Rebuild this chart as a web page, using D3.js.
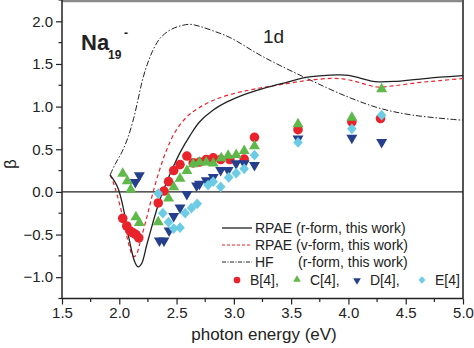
<!DOCTYPE html>
<html>
<head>
<meta charset="utf-8">
<script src="https://cdn.jsdelivr.net/npm/d3@7"></script>
<style>
  html, body { margin: 0; padding: 0; background: #fff; }
  svg { display: block; font-family: "Liberation Sans", Arial, sans-serif; }
</style>
</head>
<body>
<svg width="474" height="348"></svg>
<script>
// theory curves: [photon energy (eV), beta]
const rpaeR = [
    [1.92, 0.2], [1.96, 0.12], [1.99, 0.04], [2.02, -0.1], [2.05, -0.29], [2.09, -0.58],
    [2.135, -0.82], [2.165, -0.88], [2.195, -0.84], [2.24, -0.62], [2.3, -0.33], [2.34, -0.15],
    [2.38, 0.0], [2.43, 0.17], [2.47, 0.29], [2.53, 0.46], [2.617, 0.66], [2.7, 0.82],
    [2.82, 0.96], [2.94, 1.055], [3.05, 1.12], [3.14, 1.165], [3.26, 1.215], [3.46, 1.285],
    [3.64, 1.345], [3.84, 1.37], [3.93, 1.372], [4.0, 1.365], [4.1, 1.335], [4.2, 1.3],
    [4.26, 1.29], [4.4, 1.295], [4.6, 1.32], [4.8, 1.345], [5.0, 1.364]
];
const rpaeV = [
    [1.92, 0.2], [1.95, 0.1], [1.98, -0.03], [2.035, -0.32], [2.08, -0.6], [2.11, -0.73],
    [2.13, -0.76], [2.155, -0.72], [2.18, -0.6], [2.24, -0.3], [2.29, -0.03], [2.35, 0.25],
    [2.41, 0.48], [2.486, 0.7], [2.59, 0.88], [2.7, 0.99], [2.85, 1.09], [3.02, 1.16],
    [3.14, 1.195], [3.26, 1.225], [3.46, 1.27], [3.66, 1.31], [3.84, 1.33], [3.95, 1.325],
    [4.05, 1.3], [4.15, 1.26], [4.25, 1.23], [4.4, 1.245], [4.6, 1.28], [4.8, 1.305], [5.0, 1.33]
];
const hf = [
    [1.92, 0.2], [1.962, 0.32], [2.024, 0.47], [2.076, 0.64], [2.125, 0.86], [2.165, 1.09],
    [2.2, 1.3], [2.243, 1.49], [2.29, 1.65], [2.355, 1.8], [2.442, 1.897], [2.53, 1.945],
    [2.617, 1.965], [2.704, 1.94], [2.815, 1.89], [2.966, 1.81], [3.254, 1.585], [3.638, 1.33],
    [3.987, 1.118], [4.275, 0.98], [4.563, 0.9], [5.0, 0.84]
];

// measured points from ref. [4]
const dataB = [
    [2.03, -0.31], [2.065, -0.4], [2.095, -0.46], [2.12, -0.48], [2.145, -0.5], [2.17, -0.54],
    [2.34, -0.13], [2.39, 0.01], [2.43, 0.12], [2.475, 0.25], [2.53, 0.32], [2.59, 0.42],
    [2.645, 0.34], [2.7, 0.35], [2.76, 0.38], [2.82, 0.4], [2.885, 0.38], [2.965, 0.38],
    [3.09, 0.385], [3.18, 0.64], [3.56, 0.73], [4.03, 0.82], [4.28, 0.86]
];
const dataC = [
    [2.03, 0.21], [2.07, 0.12], [2.1, 0.02], [2.145, -0.3], [2.175, -0.37], [2.34, -0.36],
    [2.43, -0.08], [2.475, 0.05], [2.53, 0.15], [2.59, 0.24], [2.645, 0.32], [2.7, 0.34],
    [2.76, 0.34], [2.82, 0.33], [2.89, 0.39], [2.95, 0.42], [3.02, 0.43], [3.09, 0.475],
    [3.18, 0.53], [3.56, 0.79], [4.03, 0.865], [4.29, 1.2]
];
const dataD = [
    [2.14, 0.12], [2.175, 0.2], [2.35, -0.565], [2.39, -0.565], [2.435, -0.45], [2.475, -0.28],
    [2.53, -0.18], [2.59, -0.02], [2.675, 0.08], [2.7, 0.1], [2.76, 0.14], [2.82, 0.18],
    [2.885, 0.26], [2.95, 0.26], [3.02, 0.34], [3.09, 0.34], [3.18, 0.32], [3.56, 0.63],
    [4.03, 0.64], [4.29, 0.59]
];
const dataE = [
    [2.34, -0.02], [2.38, -0.25], [2.43, -0.355], [2.475, -0.43], [2.53, -0.42], [2.575, -0.25],
    [2.63, -0.19], [2.68, -0.14], [2.775, 0.08], [2.82, 0.12], [2.885, 0.06], [2.955, 0.17],
    [3.02, 0.22], [3.09, 0.27], [3.18, 0.43], [3.56, 0.58], [4.03, 0.74], [4.29, 0.9]
];

const xTicks = [1.5, 2.0, 2.5, 3.0, 3.5, 4.0, 4.5, 5.0];
const yTicks = [-1.0, -0.5, 0.0, 0.5, 1.0, 1.5, 2.0];

const RED = "#e8232b", GREEN = "#5fb84a", BLUE = "#263f8c", CYAN = "#6ccce6";

const svg = d3.select("svg");
const plotL = 62, plotR = 463, plotT = 0, plotB = 298.5;

const x = d3.scaleLinear().domain([1.5, 5.0]).range([plotL, plotR]);
const y = d3.scaleLinear().domain([-1.25, 2.25]).range([plotB, plotT]);

// frame
svg.append("line").attr("x1", plotL).attr("x2", plotR).attr("y1", 1).attr("y2", 1)
    .attr("stroke", "#8a8a8a").attr("stroke-width", 2.5);
svg.append("line").attr("x1", plotR).attr("x2", plotR).attr("y1", 0).attr("y2", plotB)
    .attr("stroke", "#555").attr("stroke-width", 2);

// axes
const xAxis = d3.axisBottom(x).tickValues(xTicks).tickFormat(d3.format(".1f")).tickSize(6).tickPadding(3);
const yAxis = d3.axisLeft(y).tickValues(yTicks).tickFormat(d3.format(".1f")).tickSize(6).tickPadding(3);

const gx = svg.append("g").attr("transform", `translate(0,${plotB})`).call(xAxis);
const gy = svg.append("g").attr("transform", `translate(${plotL},0)`).call(yAxis);
[gx, gy].forEach(g => {
    g.select(".domain").attr("stroke", "#222").attr("stroke-width", 1.5);
    g.selectAll(".tick line").attr("stroke", "#222").attr("stroke-width", 1.2);
    g.selectAll(".tick text").attr("font-size", 15).attr("fill", "#222")
        .attr("font-family", "Liberation Sans, Arial, sans-serif");
});
gy.select(".domain").attr("d", `M0,${plotB}V0`);
gx.select(".domain").attr("d", `M${plotL},0H${plotR}`);

// minor ticks
const xMinor = d3.range(1.75, 5.0, 0.5);
const yMinor = d3.range(-1.25, 2.3, 0.5);
svg.append("g").selectAll("line").data(xMinor).enter().append("line")
    .attr("x1", d => x(d)).attr("x2", d => x(d)).attr("y1", plotB).attr("y2", plotB + 3.5)
    .attr("stroke", "#222").attr("stroke-width", 1.2);
svg.append("g").selectAll("line").data(yMinor).enter().append("line")
    .attr("x1", plotL - 3.5).attr("x2", plotL).attr("y1", d => y(d)).attr("y2", d => y(d))
    .attr("stroke", "#222").attr("stroke-width", 1.2);

// zero line
svg.append("line").attr("x1", plotL).attr("x2", plotR).attr("y1", y(0)).attr("y2", y(0))
    .attr("stroke", "#222").attr("stroke-width", 1.3);

// curves
const line = d3.line().x(d => x(d[0])).y(d => y(d[1])).curve(d3.curveCatmullRom.alpha(0.5));
svg.append("path").attr("d", line(hf)).attr("fill", "none")
    .attr("stroke", "#222").attr("stroke-width", 1).attr("stroke-dasharray", "6,2,1.5,2");
svg.append("path").attr("d", line(rpaeV)).attr("fill", "none")
    .attr("stroke", RED).attr("stroke-width", 1.2).attr("stroke-dasharray", "4,3");
svg.append("path").attr("d", line(rpaeR)).attr("fill", "none")
    .attr("stroke", "#222").attr("stroke-width", 1.3);

// markers
const tri = d3.symbol().type(d3.symbolTriangle).size(52);
const diamond = "M0,-5.4L4.8,0L0,5.4L-4.8,0Z";

function drawMarker(g, kind, color) {
    if (kind === "circle") g.append("circle").attr("r", 4.8).attr("fill", color);
    else if (kind === "up") g.append("path").attr("d", tri()).attr("fill", color).attr("transform", "translate(0,-0.5)");
    else if (kind === "down") g.append("path").attr("d", tri()).attr("fill", color).attr("transform", "rotate(180) translate(0,-0.5)");
    else g.append("path").attr("d", diamond).attr("fill", color);
}

const series = [
    { data: dataB, kind: "circle", color: RED, label: "B[4]," },
    { data: dataC, kind: "up", color: GREEN, label: "C[4]," },
    { data: dataD, kind: "down", color: BLUE, label: "D[4]," },
    { data: dataE, kind: "diamond", color: CYAN, label: "E[4]" }
];
series.forEach(s => {
    svg.append("g").selectAll("g").data(s.data).enter().append("g")
        .attr("transform", d => `translate(${x(d[0])},${y(d[1])})`)
        .each(function () { drawMarker(d3.select(this), s.kind, s.color); });
});

// legend
const lg = svg.append("g").attr("font-size", 14).attr("fill", "#222");
const lineRows = [
    { y: 228, stroke: "#222", dash: null, w: 1.3, text: "RPAE (r-form, this work)" },
    { y: 245, stroke: RED, dash: "3,2", w: 1.2, text: "RPAE (v-form, this work)" },
    { y: 262, stroke: "#222", dash: "4,1.5,1,1.5", w: 1, text: "HF" }
];
lineRows.forEach(r => {
    lg.append("line").attr("x1", 222).attr("x2", 252).attr("y1", r.y).attr("y2", r.y)
        .attr("stroke", r.stroke).attr("stroke-width", r.w).attr("stroke-dasharray", r.dash);
    lg.append("text").attr("x", 255).attr("y", r.y + 5).text(r.text);
});
lg.append("text").attr("x", 298).attr("y", 262 + 5).text("(r-form, this work)");

const symX = [237, 297, 357, 422];
series.forEach((s, i) => {
    const g = lg.append("g").attr("transform", `translate(${symX[i]},280) scale(0.7)`);
    drawMarker(g, s.kind, s.color);
    lg.append("text").attr("x", symX[i] + 13).attr("y", 285).text(s.label);
});

// annotations
const na = svg.append("text").attr("x", 81).attr("y", 50).attr("font-weight", "bold").attr("fill", "#222");
na.append("tspan").attr("font-size", 22).text("Na");
svg.append("text").attr("x", 108).attr("y", 59).attr("font-weight", "bold").attr("font-size", 12).attr("fill", "#222").text("19");
svg.append("text").attr("x", 124).attr("y", 37).attr("font-weight", "bold").attr("font-size", 12).attr("fill", "#222").text("-");
svg.append("text").attr("x", 263).attr("y", 43).attr("font-size", 19).attr("fill", "#222").text("1d");

// axis titles
svg.append("text").attr("x", 264).attr("y", 340).attr("text-anchor", "middle")
    .attr("font-size", 17).attr("fill", "#222").text("photon energy (eV)");
svg.append("text").attr("transform", "translate(16,164) rotate(-90)").attr("text-anchor", "middle")
    .attr("font-size", 17).attr("fill", "#222").text("β");
</script>
</body>
</html>
